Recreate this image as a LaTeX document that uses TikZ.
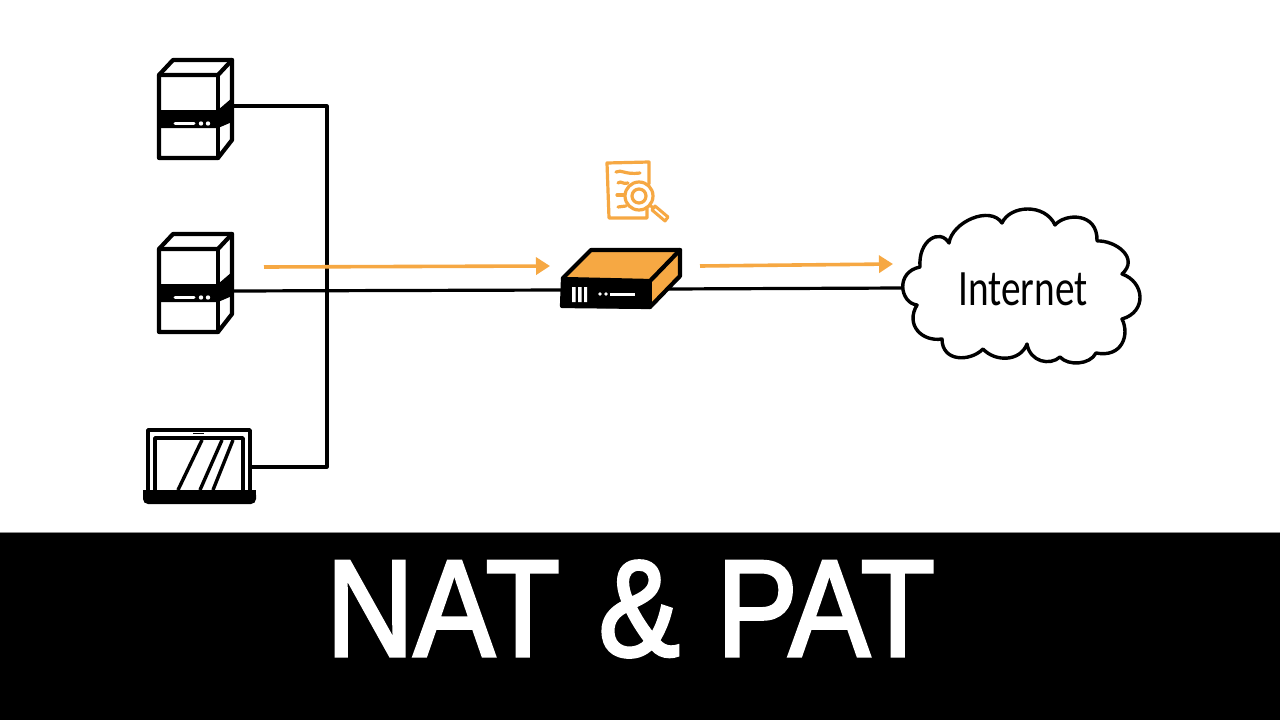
\documentclass[tikz,border=0pt]{standalone}
\usepackage{fontspec}
\setmainfont{Liberation Sans}[FakeBold=2.6]
\newfontfamily\handfont{Carlito}
\usetikzlibrary{arrows.meta}
\definecolor{amber}{HTML}{F6A843}
\definecolor{ink}{HTML}{000000}
\tikzset{
  wire/.style={draw=ink,line width=3.2pt,line join=round},
  flow/.style={draw=amber,line width=3.6pt,-{Triangle[length=14pt,width=17pt]}},
  edge/.style={draw=ink,line width=4.2pt,line join=round,line cap=round},
  thin edge/.style={draw=amber,line width=3.2pt,line join=round,line cap=round},
  pics/servericon/.style={code={
    \fill[white] (158,75)--(173,60)--(232,60)--(232,140)--(218,158)--(158,158)--cycle;
    \fill[ink] (158,110)--(218,110)--(232,98)--(232,122)--(218,128)--(158,128)--cycle;
    \draw[edge] (159,75)--(173,60)--(232,60)--(232,140)--(218,158)--(159,158)--cycle;
    \draw[edge] (159,75)--(218,75)--(232,60);
    \draw[edge] (218,75)--(218,158);
    \draw[white,line width=3pt,line cap=round] (175,123.5)--(194,123.5);
    \fill[white] (201,123.5) circle (2.2) (208,123.5) circle (2.2);
  }}
}
\begin{document}
\begin{tikzpicture}[x=1pt,y=-1pt]
\useasboundingbox (0,0) rectangle (1280,720);
\fill[white] (0,0) rectangle (1280,720);
\fill[black!45] (0,532) rectangle (1280,533);
\fill[black] (0,533) rectangle (1280,720);

% ports
\coordinate (srvAport) at (232,106);
\coordinate (srvBport) at (232,291);
\coordinate (lapPort) at (250,467);
\coordinate (busTop) at (327,106);
\coordinate (busBot) at (327,467);
\coordinate (rtrIn) at (563,290);
\coordinate (rtrOut) at (668,289);
\coordinate (cloudIn) at (903,288);
\coordinate (flowAs) at (264,267);
\coordinate (flowAe) at (550,266);
\coordinate (flowBs) at (700,266);
\coordinate (flowBe) at (893,264);

% connectors
\draw[wire] (srvAport) -- (busTop) -- (busBot) -- (lapPort);
\draw[wire] (srvBport) -- (rtrIn);
\draw[wire] (rtrOut) -- (cloudIn);
\draw[flow] (flowAs) -- (flowAe);
\draw[flow] (flowBs) -- (flowBe);

% servers
\pic at (0,0) {servericon};
\pic at (0,174) {servericon};

% laptop
\draw[ink,line width=3.4pt,line join=round] (148,490)--(148,430)--(250,430)--(250,490);
\draw[ink,line width=3.8pt,line join=round] (155,490)--(155,438)--(243,438)--(243,490);
\draw[ink,line width=3.4pt] (202,440)--(178,490) (222,440)--(200,490) (233,440)--(213,490);
\fill[ink,rounded corners=5pt] (143,490)--(256,490)--(256,504)--(143,504)--cycle;
\fill[ink] (143,490) rectangle (256,496);
\draw[ink,line width=1.6pt] (193,433.5)--(204,433.5);

% router
\fill[amber] (591,250)--(680,250)--(680,276)--(650,307)--(650,281)--(563,278)--cycle;
\fill[ink] (562,278)--(650,281)--(650,309)--(562,307)--cycle;
\draw[edge] (563,278)--(591,250)--(680,250)--(680,276)--(650,307)--(562,306)--cycle;
\draw[edge] (563,279)--(650,281)--(680,250);
\draw[edge] (650,281)--(650,307);
\fill[white] (572,287) rectangle (575.5,302) (578,287) rectangle (581.5,302) (584,287) rectangle (587,302);
\fill[white] (600,294) circle (1.8) (606,294) circle (1.8);
\draw[white,line width=3pt] (610,294.5)--(635,294.5);

% document with magnifier
\draw[thin edge] (649,184)--(649,162)--(607,163)--(609,218)--(647,218)--(647,208);
\draw[thin edge] (616,172) .. controls (622,169) and (624,175) .. (640,173);
\draw[thin edge] (618,183) .. controls (621,180) and (623,185) .. (628,183);
\draw[thin edge] (617,195) -- (624,195);
\draw[thin edge] (618,207) -- (626,206);
\fill[white] (639,196) circle (14);
\draw[thin edge] (639,196) circle (14);
\draw[thin edge] (639,196) circle (7);
\draw[amber,line width=3pt,line join=round] (650,205)--(654,209) (655,206)--(668,217)--(665,221)--(652,210)--cycle;

% cloud
\draw[ink,line width=3.4pt,line join=round,fill=white]
  (949,243) .. controls (952,222) and (990,205) .. (1002,223)
  .. controls (1010,205) and (1045,203) .. (1055,225)
  .. controls (1065,213) and (1098,212) .. (1097,241)
  .. controls (1115,240) and (1140,258) .. (1122,274)
  .. controls (1145,282) and (1147,312) .. (1122,319)
  .. controls (1130,335) and (1122,358) .. (1096,353)
  .. controls (1090,365) and (1068,366) .. (1060,357)
  .. controls (1050,366) and (1030,362) .. (1027,344)
  .. controls (1020,362) and (995,362) .. (983,349)
  .. controls (970,362) and (942,362) .. (942,339)
  .. controls (922,342) and (905,325) .. (917,305)
  .. controls (900,303) and (895,272) .. (920,267)
  .. controls (918,240) and (940,228) .. (949,243) -- cycle;
\node[inner sep=0,xscale=0.77] (cloudLabel) at (1023,289) {\handfont\fontsize{51}{51}\selectfont Internet};

% title
\node[inner sep=0,text=white,xscale=0.885] (title) at (630.5,609) {\fontsize{137}{137}\selectfont NAT \hspace{6pt}\&\hspace{4pt} PAT};
\end{tikzpicture}
\end{document}
